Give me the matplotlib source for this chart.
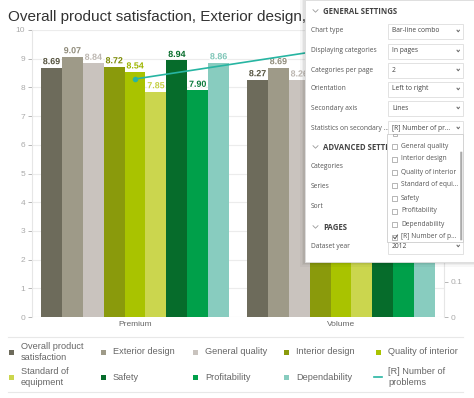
import numpy as np
import matplotlib
matplotlib.use("Agg")
import matplotlib.pyplot as plt
import matplotlib.patheffects as pe
from matplotlib.patches import Rectangle, FancyBboxPatch

# ---- data ----
categories = ["Premium", "Volume"]
series_names = ["Overall product\nsatisfaction", "Exterior design", "General quality",
                "Interior design", "Quality of interior", "Standard of\nequipment",
                "Safety", "Profitability", "Dependability"]
premium_vals = [8.69, 9.07, 8.84, 8.72, 8.54, 7.85, 8.94, 7.90, 8.86]
volume_vals = [8.27, 8.69, 8.26, 8.05, 7.95, 7.40, 8.30, 7.65, 8.20]  # most are hidden by the panel
problems = [0.68, 0.77]   # [R] Number of problems (secondary axis)
line_name = "[R] Number of\nproblems"
right_ticks = [0, 0.1]    # only these show beside the panel

bar_colors = ["#6d6b5b", "#9e9a88", "#c9c3be", "#8a9a0c", "#a9c300",
              "#cbd64e", "#066c2b", "#00a04a", "#88ccbf"]
label_colors = ["#55533f", "#8f8b7a", "#bdb7b1", "#7b8a05", "#9db400",
                "#c5cf45", "#066c2b", "#0a7a3a", "#7fc6b8"]
line_color = "#27b5a2"

W, H = 474, 398
fig = plt.figure(figsize=(W / 100, H / 100), dpi=100)
plt.rcParams["font.family"] = ["Liberation Sans", "DejaVu Sans"]

# plot area in pixels
L, R, T, B = 32, 444, 30, 317
ax = fig.add_axes([L / W, 1 - B / H, (R - L) / W, (B - T) / H])
nser = len(premium_vals)
bw = 188 / 206 / nser
x = np.arange(len(categories))

for j in range(nser):
    vals = [premium_vals[j], volume_vals[j]]
    xs = x + (j - (nser - 1) / 2) * bw
    ax.bar(xs, vals, width=bw, color=bar_colors[j], zorder=2)
    for xx, v in zip(xs, vals):
        ax.text(xx, v + 0.05, f"{v:.2f}", ha="center", va="bottom", fontsize=6.4,
                fontweight="bold", color=label_colors[j], zorder=4,
                path_effects=[pe.withStroke(linewidth=1.8, foreground="white")])

ax.set_xlim(-0.5, 1.5)
ax.set_ylim(0, 10)
ax.set_yticks(range(0, 11))
ax.set_xticks(x)
ax.set_xticklabels(categories)
ax.grid(axis="y", color="#ececec", linewidth=0.8, zorder=0)
ax.tick_params(axis="y", labelsize=6, colors="#aaaaaa", length=3, width=0.6, pad=2)
ax.tick_params(axis="x", labelsize=6, labelcolor="#666666", length=0, pad=3)
for s in ["top", "right", "bottom"]:
    ax.spines[s].set_visible(False)
ax.spines["left"].set_color("#e6e6e6")

ax2 = ax.twinx()
ax2.plot(x, problems, color=line_color, linewidth=1.2, marker="o", markersize=3, zorder=5)
ax2.set_ylim(0, (B - T) / 350)
ax2.set_yticks(right_ticks)
ax2.set_yticklabels(["0", "0.1"])
ax2.tick_params(axis="y", labelsize=6, colors="#aaaaaa", length=3, width=0.6, pad=2)
for s in ["top", "left", "bottom"]:
    ax2.spines[s].set_visible(False)
ax2.spines["right"].set_color("#e6e6e6")

# ---- overlay in pixel coordinates: title, legend, settings panel ----
ov = fig.add_axes([0, 0, 1, 1], zorder=10)
ov.set_xlim(0, W)
ov.set_ylim(H, 0)
ov.axis("off")
ov.patch.set_visible(False)

ov.text(8, 17, "Overall product satisfaction, Exterior design, General quality",
        fontsize=11, color="#333333", va="center", ha="left", zorder=1)

# legend
ov.plot([8, 463], [337, 337], color="#e8e8e8", lw=0.8)
ov.plot([8, 463], [392, 392], color="#e8e8e8", lw=0.8)
col_x = [12, 104, 196, 287, 379]
row_y = [352, 377]
for k in range(nser + 1):
    cx = col_x[k % 5]
    cy = row_y[k // 5]
    if k < nser:
        ov.add_patch(Rectangle((cx - 2.5, cy - 2.5), 5, 5, color=bar_colors[k], lw=0))
        name = series_names[k]
    else:
        ov.plot([cx - 5, cx + 3], [cy, cy], color=line_color, lw=1.2)
        name = line_name
    ov.text(cx + 9, cy, name, fontsize=6.6, color="#666666", va="center", ha="left",
            linespacing=1.15)

# settings panel
pfont = ["Open Sans", "DejaVu Sans"]
for i, a in enumerate([0.05, 0.04, 0.03]):
    ov.add_patch(Rectangle((305 - 1.5 * (i + 1), 0), 200, 262 + 1.5 * (i + 1),
                           color="black", alpha=a, lw=0, zorder=4))
ov.add_patch(Rectangle((305, 0), 200, 262, facecolor="white", edgecolor="#dddddd",
                       lw=0.6, zorder=5))


def header(y, txt):
    ov.plot([313, 315.5, 318], [y - 1.3, y + 1.2, y - 1.3], color="#999999", lw=0.6,
            zorder=6)
    ov.text(323, y, txt, fontsize=5.6, fontweight="bold", color="#444444", va="center",
            ha="left", family=pfont, zorder=6)


def label(y, txt):
    ov.text(311, y, txt, fontsize=4.8, color="#555555", va="center", ha="left",
            family=pfont, zorder=6)


def dropdown(y, txt):
    ov.add_patch(Rectangle((388, y - 7.5), 75, 15, facecolor="white", edgecolor="#dddddd",
                           lw=0.6, zorder=6))
    ov.text(392, y, txt, fontsize=4.8, color="#444444", va="center", ha="left",
            family=pfont, zorder=7)
    ov.plot([457, 458.2, 459.4], [y - 0.8, y + 0.8, y - 0.8], color="#666666", lw=0.7,
            zorder=7)


settings_rows = [("Chart type", "Bar-line combo"), ("Displaying categories", "In pages"),
                 ("Categories per page", "2"), ("Orientation", "Left to right"),
                 ("Secondary axis", "Lines"), ("Statistics on secondary ...", "[R] Number of pr...")]
header(11, "GENERAL SETTINGS")
for (lab, val), yy in zip(settings_rows, [31, 51, 70, 89, 108, 128]):
    label(yy, lab)
    dropdown(yy, val)

header(147, "ADVANCED SETTI")
for lab, yy in zip(["Categories", "Series", "Sort"], [167, 187, 207]):
    label(yy, lab)
header(227, "PAGES")
label(246, "Dataset year")
dropdown(246, "2012")

# open dropdown list
list_items = ["General quality", "Interior design", "Quality of interior",
              "Standard of equi...", "Safety", "Profitability", "Dependability",
              "[R] Number of p..."]
ov.add_patch(Rectangle((387, 134), 76, 108, facecolor="white", edgecolor="#cccccc",
                       lw=0.6, zorder=8))
ov.add_patch(Rectangle((393, 134), 4, 1.5, facecolor="white", edgecolor="#999999",
                       lw=0.5, zorder=9))
for i, it in enumerate(list_items):
    yy = 146 + 13 * i
    ov.add_patch(Rectangle((392.5, yy - 2.5), 5, 5, facecolor="white", edgecolor="#999999",
                           lw=0.5, zorder=9))
    if i == len(list_items) - 1:
        ov.plot([393.5, 395, 397.5], [yy, yy + 1.8, yy - 2], color="#555555", lw=0.7,
                zorder=10)
    ov.text(401, yy, it, fontsize=4.8, color="#555555", va="center", ha="left",
            family=pfont, zorder=9)
ov.add_patch(FancyBboxPatch((460.5, 152), 1.5, 88, boxstyle="round,pad=0.3",
                            facecolor="#aaaaaa", edgecolor="none", zorder=9))

fig.savefig("out.png", dpi=100, facecolor="white")
